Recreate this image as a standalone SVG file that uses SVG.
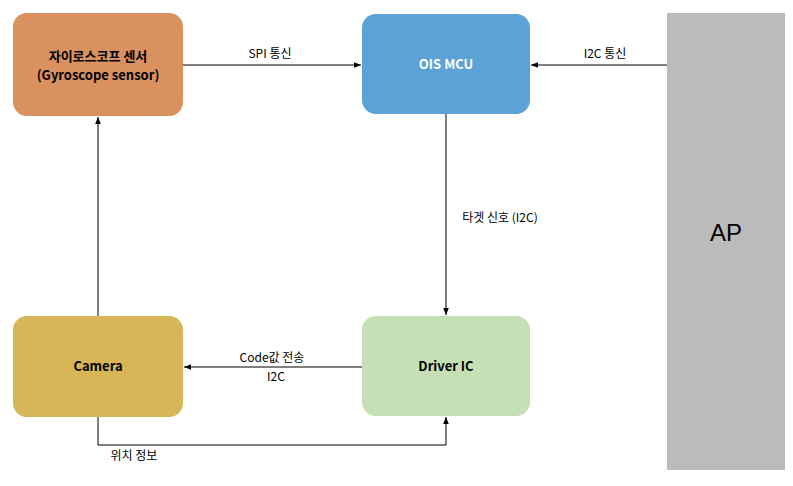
<svg xmlns="http://www.w3.org/2000/svg" width="793" height="486" viewBox="0 0 793 486">
<style>
.n{font-family:"Malgun Gothic","Noto Sans CJK KR","Liberation Sans",sans-serif;font-size:13px;font-weight:bold;text-anchor:middle}
.l{font-family:"Noto Sans CJK KR","Liberation Sans",sans-serif;font-size:12px;fill:#000;text-anchor:middle}
.c{fill:none;stroke:#000;stroke-width:1;marker-end:url(#a)}
</style>
<defs><marker id="a" viewBox="0 0 10 10" refX="10" refY="5" markerWidth="7" markerHeight="7" orient="auto"><path d="M0,1 L10,5 L0,9 z" fill="#000"/></marker></defs>
<rect width="793" height="486" fill="#fff"/>
<g id="gyro"><rect x="13" y="13" width="170" height="103" rx="14" fill="#DA9160"/><text class="n" x="98" y="61">자이로스코프 센서</text><text class="n" x="98" y="80">(Gyroscope sensor)</text></g>
<g id="ois"><rect x="362" y="14" width="168" height="100" rx="14" fill="#5BA3D6"/><text class="n" x="446" y="69" fill="#fff">OIS MCU</text></g>
<g id="camera"><rect x="13" y="316" width="170" height="101" rx="14" fill="#D6B656"/><text class="n" x="98" y="371">Camera</text></g>
<g id="driver"><rect x="362" y="316" width="168" height="100" rx="14" fill="#C5E0B4"/><text class="n" x="446" y="371">Driver IC</text></g>
<g id="ap"><rect x="667" y="13" width="118" height="457" fill="#BBBBBB"/><text x="726" y="241" font-family="Liberation Sans,sans-serif" font-size="24" text-anchor="middle">AP</text></g>
<g id="connectors">
<path class="c" d="M183,65 H361"/>
<path class="c" d="M667,65 H531"/>
<path class="c" d="M446,114 V315"/>
<path class="c" d="M362,367 H184"/>
<path class="c" d="M98,316 V117"/>
<path class="c" d="M98,417 V445 H446 V417"/>
<text class="l" x="270" y="58">SPI 통신</text>
<text class="l" x="605" y="58">I2C 통신</text>
<text class="l" x="500" y="222">타겟 신호 (I2C)</text>
<text class="l" x="272" y="362">Code값 전송</text>
<text class="l" x="276" y="381">I2C</text>
<text class="l" x="134" y="460">위치 정보</text>
</g>
</svg>
